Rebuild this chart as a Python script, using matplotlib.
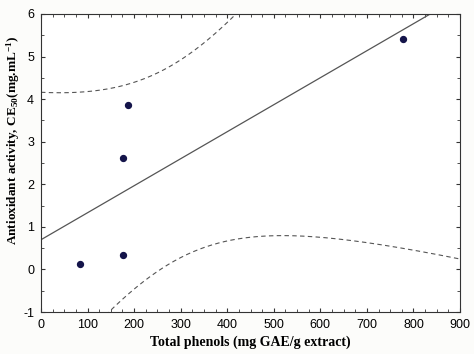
import numpy as np
import matplotlib
matplotlib.use("Agg")
import matplotlib.pyplot as plt
from matplotlib.ticker import MultipleLocator

# Data
phenols = np.array([83, 176, 177, 186, 777])
ce50 = np.array([0.12, 0.35, 2.62, 3.85, 5.42])
xticks = [0, 100, 200, 300, 400, 500, 600, 700, 800, 900]
yticks = [-1, 0, 1, 2, 3, 4, 5, 6]
T_CRIT = 3.182  # t(0.975, df=3)

plt.rcParams["axes.unicode_minus"] = False
plt.rcParams["mathtext.fontset"] = "custom"
plt.rcParams["mathtext.rm"] = "Liberation Serif:bold"
plt.rcParams["mathtext.bf"] = "Liberation Serif:bold"
plt.rcParams["mathtext.it"] = "Liberation Serif:bold"
plt.rcParams["mathtext.default"] = "rm"

# Linear regression with 95% confidence band
n = len(phenols)
slope, intercept = np.polyfit(phenols, ce50, 1)
resid = ce50 - (intercept + slope * phenols)
s = np.sqrt(np.sum(resid ** 2) / (n - 2))
sxx = np.sum((phenols - phenols.mean()) ** 2)
xs = np.linspace(0, 900, 400)
pred = intercept + slope * xs
se = s * np.sqrt(1 / n + (xs - phenols.mean()) ** 2 / sxx)

fig = plt.figure(figsize=(4.74, 3.54), dpi=100, facecolor="#fcfcfa")
ax = fig.add_axes([0.0865, 0.1186, 0.884, 0.842])
ax.set_facecolor("white")

ax.plot(xs, pred, color="#555555", lw=0.9)
ax.plot(xs, pred + T_CRIT * se, color="#555555", lw=0.8, ls=(0, (4, 3)))
ax.plot(xs, pred - T_CRIT * se, color="#555555", lw=0.8, ls=(0, (4, 3)))
ax.scatter(phenols, ce50, s=18, color="#14144a", zorder=3)

ax.set_xlim(0, 900)
ax.set_ylim(-1, 6)
ax.set_xticks(xticks)
ax.set_yticks(yticks)
ax.xaxis.set_minor_locator(MultipleLocator(25))
ax.yaxis.set_minor_locator(MultipleLocator(0.5))
ax.tick_params(which="both", direction="in", top=True, right=True, color="#333333")
ax.tick_params(which="major", length=3, labelsize=9, pad=5)
ax.tick_params(which="minor", length=2)
for lab in ax.get_xticklabels() + ax.get_yticklabels():
    lab.set_family("Liberation Sans")
for sp in ax.spines.values():
    sp.set_color("#333333")
    sp.set_linewidth(0.8)

ax.set_xlabel("Total phenols (mg GAE/g extract)", family="Liberation Serif",
              fontweight="bold", fontsize=10, labelpad=3)
ax.set_ylabel(r"Antioxidant activity, CE$_{50}$(mg.mL$^{-1}$)",
              family="Liberation Serif", fontweight="bold", fontsize=9.5)
ax.yaxis.set_label_coords(-0.045, 0.575)

fig.savefig("out.png", dpi=100, facecolor=fig.get_facecolor())
